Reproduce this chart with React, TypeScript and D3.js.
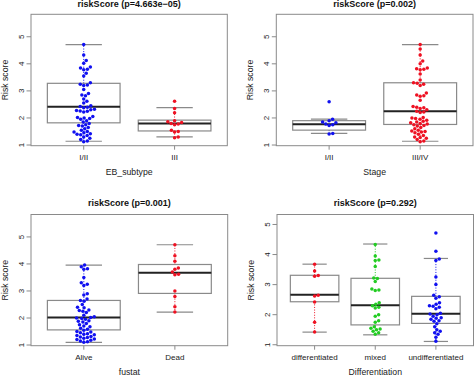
import React from "react";
import * as d3 from "d3";

// ---------- DATA ----------
const titles = ["riskScore (p=4.663e\u221205)", "riskScore (p=0.002)", "riskScore (p=0.001)", "riskScore (p=0.292)"];
const xTitles = ["EB_subtype", "Stage", "fustat", "Differentiation"];
const yTitle = "Risk score";
const yTicks = [1, 2, 3, 4, 5];

const p1Categories = ["I/II", "III"];
const p1GroupA = [4.71, 4.33, 4.12, 4.02, 3.88, 3.85, 3.80, 3.78, 3.65, 3.55, 3.30, 3.25, 3.22, 3.20, 3.05, 2.90, 2.85, 2.82, 2.70, 2.62, 2.55, 2.45, 2.42, 2.40, 2.38, 2.32, 2.30, 2.28, 2.26, 2.25, 2.22, 2.05, 2.02, 2.00, 1.98, 1.95, 1.90, 1.85, 1.80, 1.75, 1.72, 1.70, 1.65, 1.60, 1.55, 1.50, 1.48, 1.45, 1.42, 1.40, 1.38, 1.35, 1.30, 1.25, 1.20, 1.15, 1.12];
const p1GroupB = [2.62, 2.35, 2.19, 1.90, 1.86, 1.83, 1.80, 1.78, 1.75, 1.55, 1.50, 1.48, 1.30, 1.27];
// [lower whisker, Q1, median, Q3, upper whisker]
const p1Box = [[1.14, 1.82, 2.41, 3.28, 4.71], [1.30, 1.52, 1.80, 1.92, 2.38]];

const p2Categories = ["I/II", "III/IV"];
const p2GroupA = [2.60, 1.95, 1.90, 1.85, 1.82, 1.78, 1.75, 1.72, 1.43, 1.41];
const p2GroupB = [4.71, 4.55, 4.33, 4.10, 4.00, 3.85, 3.82, 3.80, 3.78, 3.62, 3.40, 3.30, 3.28, 3.25, 3.20, 2.92, 2.85, 2.82, 2.80, 2.65, 2.42, 2.40, 2.38, 2.35, 2.30, 2.25, 2.22, 2.20, 2.02, 2.00, 1.98, 1.95, 1.92, 1.88, 1.85, 1.82, 1.80, 1.78, 1.75, 1.72, 1.70, 1.65, 1.60, 1.55, 1.52, 1.50, 1.48, 1.45, 1.40, 1.35, 1.30, 1.28, 1.25, 1.20, 1.15, 1.12];
const p2Box = [[1.43, 1.55, 1.77, 1.90, 1.96], [1.14, 1.76, 2.25, 3.30, 4.71]];

const p3Categories = ["Alive", "Dead"];
const p3GroupA = [3.96, 3.90, 3.82, 3.80, 3.50, 3.30, 3.25, 3.20, 2.90, 2.85, 2.70, 2.65, 2.62, 2.50, 2.40, 2.38, 2.30, 2.28, 2.25, 2.20, 2.10, 2.05, 2.02, 2.00, 1.98, 1.95, 1.90, 1.88, 1.85, 1.80, 1.75, 1.70, 1.68, 1.62, 1.58, 1.55, 1.50, 1.48, 1.45, 1.42, 1.40, 1.38, 1.35, 1.32, 1.30, 1.28, 1.25, 1.22, 1.20, 1.18, 1.15, 1.12, 1.10];
const p3GroupB = [4.71, 4.30, 4.10, 3.85, 3.80, 3.70, 3.62, 3.60, 3.00, 2.80, 2.42, 2.22];
const p3Box = [[1.10, 1.56, 2.02, 2.65, 3.96], [2.22, 2.91, 3.67, 3.98, 4.71]];

const p4Categories = ["differentiated", "mixed", "undifferentiated"];
const p4GroupA = [3.68, 3.45, 3.30, 3.28, 2.65, 2.62, 2.42, 1.75, 1.42];
const p4GroupB = [4.33, 3.95, 3.82, 3.80, 3.60, 3.22, 3.20, 3.10, 2.85, 2.82, 2.80, 2.40, 2.35, 2.30, 2.25, 2.22, 2.00, 1.95, 1.80, 1.75, 1.60, 1.55, 1.52, 1.50, 1.45, 1.40, 1.35];
const p4GroupC = [4.72, 4.11, 3.85, 3.80, 3.25, 3.00, 2.65, 2.60, 2.55, 2.40, 2.35, 2.30, 2.28, 2.25, 2.20, 2.05, 2.02, 2.00, 1.95, 1.90, 1.88, 1.85, 1.80, 1.78, 1.70, 1.60, 1.50, 1.45, 1.40, 1.35, 1.25, 1.12];
const p4Box = [[1.42, 2.43, 2.66, 3.31, 3.68], [1.33, 1.66, 2.31, 3.21, 4.35], [1.11, 1.71, 2.03, 2.61, 3.87]];

const yLimits = [[1.155, 5.65], [1.155, 5.65], [1.155, 5.65], [1.13, 5.17]];

// ---------- STYLE / LAYOUT ----------
const BLUE = "#1010F0";
const RED = "#EE1122";
const GREEN = "#22CC22";
const FONT = "'Liberation Sans', Arial, Helvetica, sans-serif";
const FRAME = "#8a8a8a";

const panels = [
  { rect: [31, 14.3, 227.3, 145.7], cats: p1Categories, groups: [p1GroupA, p1GroupB], box: p1Box, colors: [BLUE, RED], titleY: 7 },
  { rect: [276.3, 14.3, 473, 145.7], cats: p2Categories, groups: [p2GroupA, p2GroupB], box: p2Box, colors: [BLUE, RED], titleY: 7 },
  { rect: [31, 214.5, 227.7, 345.7], cats: p3Categories, groups: [p3GroupA, p3GroupB], box: p3Box, colors: [BLUE, RED], titleY: 206.3 },
  { rect: [277, 214.5, 473.5, 345.7], cats: p4Categories, groups: [p4GroupA, p4GroupB, p4GroupC], box: p4Box, colors: [RED, GREEN, BLUE], titleY: 206 },
];

function swarm(values: number[], y: (v: number) => number, d: number) {
  const pts = values.map((v) => ({ v, y: y(v), x: 0 })).sort((a, b) => b.y - a.y);
  const placed: { x: number; y: number; v: number }[] = [];
  for (const p of pts) {
    const cands = [0];
    for (const q of placed) {
      const dy = Math.abs(p.y - q.y);
      if (dy < d) {
        const dx = Math.sqrt(d * d - dy * dy);
        cands.push(q.x + dx, q.x - dx);
      }
    }
    cands.sort((a, b) => Math.abs(a) - Math.abs(b) || b - a);
    let chosen = 0;
    for (const c of cands) {
      let ok = true;
      for (const q of placed) {
        const dx = c - q.x, dy = p.y - q.y;
        if (dx * dx + dy * dy < d * d - 1e-6) { ok = false; break; }
      }
      if (ok) { chosen = c; break; }
    }
    p.x = chosen;
    placed.push(p);
  }
  return placed;
}

function Panel({ idx }: { idx: number }) {
  const p = panels[idx];
  const [x0, y0, x1, y1] = p.rect;
  const n = p.cats.length;
  const [a, b] = yLimits[idx];
  const ext = (b - a) * 0.04;
  const y = d3.scaleLinear().domain([a - ext, b + ext]).range([y1, y0]);
  const xa = 0.5, xb = n + 0.5, xe = (xb - xa) * 0.04;
  const x = d3.scaleLinear().domain([xa - xe, xb + xe]).range([x0, x1]);
  const unit = x(1) - x(0);
  const boxHalf = unit * 0.4;
  const capHalf = unit * 0.2;
  const cx = (x0 + x1) / 2;
  const cy = (y0 + y1) / 2;
  return (
    <g>
      <text x={cx} y={p.titleY} textAnchor="middle" fontWeight="bold" fontSize={9} fill="#111">{titles[idx]}</text>
      <rect x={x0} y={y0} width={x1 - x0} height={y1 - y0} fill="none" stroke={FRAME} strokeWidth={1} />
      {yTicks.map((t) => (
        <g key={t}>
          <line x1={x0 - 4.5} x2={x0} y1={y(t)} y2={y(t)} stroke={FRAME} />
          <text transform={`translate(${x0 - 7.5},${y(t)}) rotate(-90)`} textAnchor="middle" fontSize={8} fill="#222">{t}</text>
        </g>
      ))}
      <text transform={`translate(${x0 - 23.3},${cy}) rotate(-90)`} textAnchor="middle" fontSize={8.7} fill="#222">{yTitle}</text>
      {p.cats.map((c, i) => (
        <g key={c}>
          <line x1={x(i + 1)} x2={x(i + 1)} y1={y1} y2={y1 + 4} stroke={FRAME} />
          <text x={x(i + 1)} y={y1 + 14.2} textAnchor="middle" fontSize={8} fill="#222">{c}</text>
        </g>
      ))}
      <text x={cx} y={y1 + 29.5} textAnchor="middle" fontSize={8.7} fill="#222">{xTitles[idx]}</text>
      {p.box.map((s, i) => {
        const c = x(i + 1);
        return (
          <g key={i}>
            <line x1={c} x2={c} y1={y(s[3])} y2={y(s[4])} stroke={p.colors[i]} strokeDasharray="1,1.6" strokeWidth={1} />
            <line x1={c} x2={c} y1={y(s[1])} y2={y(s[0])} stroke={p.colors[i]} strokeDasharray="1,1.6" strokeWidth={1} />
            <line x1={c - capHalf} x2={c + capHalf} y1={y(s[4])} y2={y(s[4])} stroke={FRAME} strokeWidth={1.2} />
            <line x1={c - capHalf} x2={c + capHalf} y1={y(s[0])} y2={y(s[0])} stroke={FRAME} strokeWidth={1.2} />
            <rect x={c - boxHalf} y={y(s[3])} width={boxHalf * 2} height={y(s[1]) - y(s[3])} fill="none" stroke={FRAME} strokeWidth={1.2} />
            <line x1={c - boxHalf} x2={c + boxHalf} y1={y(s[2])} y2={y(s[2])} stroke="#222" strokeWidth={2} />
          </g>
        );
      })}
      {p.groups.map((g, i) =>
        swarm(g, y, 3.7).map((pt, j) => (
          <circle key={`${i}-${j}`} cx={x(i + 1) + pt.x} cy={pt.y} r={1.75} fill={p.colors[i]} />
        ))
      )}
    </g>
  );
}

export default function App() {
  return (
    <svg width={474} height={376} style={{ position: "fixed", left: 0, top: 0, background: "#fff", fontFamily: FONT }}>
      <rect x={0} y={0} width={474} height={376} fill="#fff" />
      {panels.map((_, i) => <Panel key={i} idx={i} />)}
    </svg>
  );
}
